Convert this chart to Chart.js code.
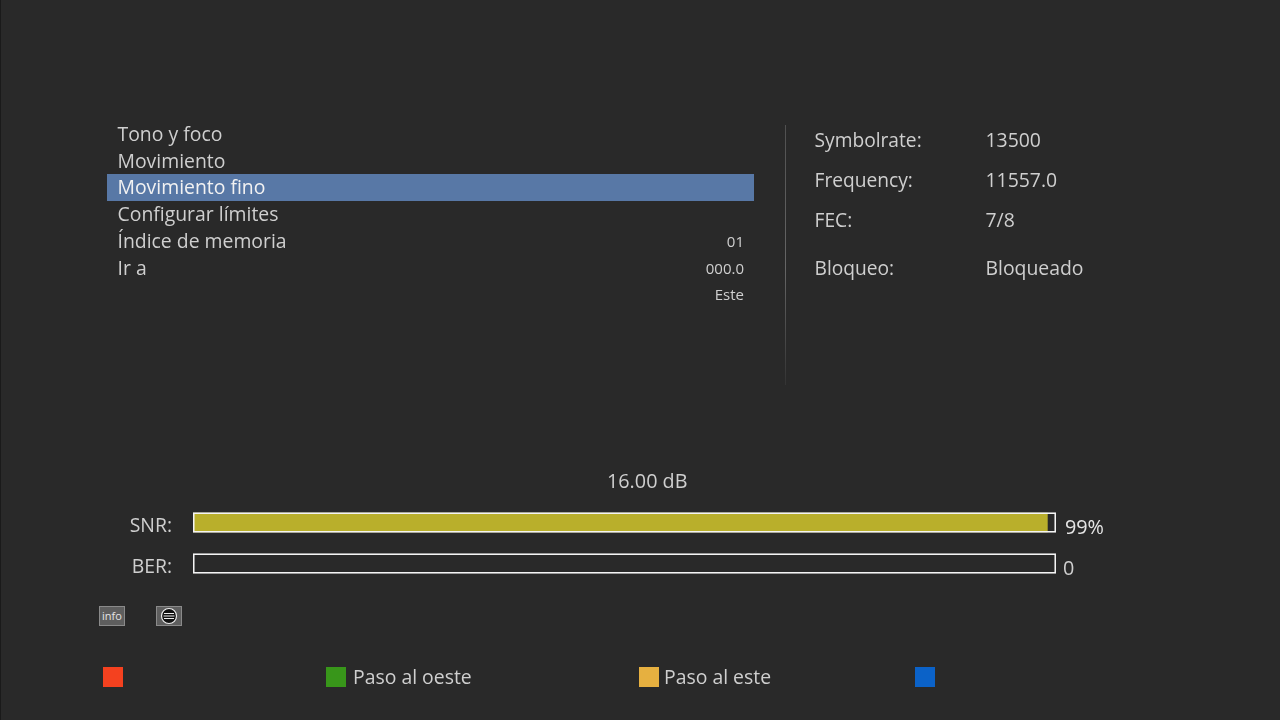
<!DOCTYPE html>
<html lang="es">
<head>
<meta charset="utf-8">
<title>Movimiento fino</title>
<script src="https://cdn.jsdelivr.net/npm/chart.js@4"></script>
<style>
  html, body { margin: 0; padding: 0; background: #292929; }
  #pantalla { position: relative; width: 1280px; height: 720px; overflow: hidden; background: #292929;
    font-family: "Open Sans", "Noto Sans", sans-serif; color: #cfcfcf; }
  #pantalla::before { content: ''; position: absolute; left: 0; top: 0; width: 1px; height: 720px; background: #1a1a1a; }
  #grafico { position: absolute; left: 0; top: 0; }
  .txt { position: absolute; white-space: nowrap; line-height: 26px; height: 26px; font-size: 19.4px; }
  #seleccion { position: absolute; left: 107px; top: 174px; width: 647px; height: 26.7px; background: #5878a6; }
  #divisor { position: absolute; left: 785px; top: 125px; width: 1px; height: 260px;
    background: linear-gradient(to bottom, #505050, #666 55%, #333); }
  .cuadro { position: absolute; top: 667px; width: 20px; height: 20px; }
  .tecla { position: absolute; top: 606px; width: 24px; height: 18px; background: #5e5e5e; border: 1px solid #8a8a8a;
    color: #e4e4e4; font: 11px/18px "Open Sans", sans-serif; text-align: center; }
  .tecla svg { display: block; margin: 0 auto; }
</style>
</head>
<body>
<div id="pantalla">
  <div id="seleccion"></div>
  <div id="divisor"></div>
  <canvas id="grafico" width="1280" height="720"></canvas>
  <div class="tecla" style="left:99px">info</div>
  <div class="tecla" style="left:156px">
    <svg width="20" height="18" viewBox="0 0 20 18">
      <circle cx="10" cy="9" r="7.5" fill="#111" stroke="#eee" stroke-width="1.2"/>
      <path d="M5 6.5h10M4.5 9h11M5 11.5h10" stroke="#eee" stroke-width="1.2"/>
    </svg>
  </div>
</div>
<script>
// ---- datos ----
const MEDIDAS = ['SNR:', 'BER:'];
const NIVEL   = [99, 0];
const ESCALA  = [100, 100];
const LECTURAS = ['99%', '0'];
const DB_TEXTO = '16.00 dB';

const MENU = ['Tono y foco', 'Movimiento', 'Movimiento fino', 'Configurar límites', 'Índice de memoria', 'Ir a'];
const MENU_VALORES = ['', '', '', '', '01', '000.0', 'Este'];
const INFO_NOMBRES = ['Symbolrate:', 'Frequency:', 'FEC:', 'Bloqueo:'];
const INFO_VALORES = ['13500', '11557.0', '7/8', 'Bloqueado'];
const TECLAS = ['', 'Paso al oeste', 'Paso al este', ''];
const TECLAS_COLOR = ['#f4411f', '#38961a', '#e6b040', '#0b62c8'];

// posiciones de la pantalla
const FILA_Y = [134, 161, 187, 214, 241, 267.5, 294];
const INFO_Y = [140, 180, 220, 268];
const TECLAS_X = [103, 326, 639, 915];
const TECLAS_TXT_X = [0, 353, 664, 0];

const pantalla = document.getElementById('pantalla');

function poner(texto, x, yCentro, extra) {
  const el = document.createElement('div');
  el.className = 'txt';
  el.textContent = texto;
  el.style.left = x + 'px';
  el.style.top = (yCentro - 13) + 'px';
  Object.assign(el.style, extra || {});
  pantalla.appendChild(el);
  return el;
}

function ponerDer(texto, xDer, yCentro, extra) {
  const el = poner(texto, 0, yCentro, extra);
  el.style.left = 'auto';
  el.style.right = (1280 - xDer) + 'px';
  return el;
}

// ---- menú ----
MENU.forEach((t, i) => poner(t, 117.5, FILA_Y[i], i === 2 ? { color: '#f2f2f2' } : {}));
MENU_VALORES.forEach((t, i) => { if (t) ponerDer(t, 744, FILA_Y[i], { fontSize: '15px' }); });

// ---- panel de información ----
INFO_NOMBRES.forEach((t, i) => {
  poner(t, 814.5, INFO_Y[i], { fontSize: '19.2px' });
  poner(INFO_VALORES[i], 985.5, INFO_Y[i], { fontSize: '19.4px' });
});

// ---- lecturas ----
poner(DB_TEXTO, 607, 481, { fontSize: '19.8px' });
poner(LECTURAS[0], 1065, 527, { color: '#e6e6e6', fontSize: '19.8px' });
poner(LECTURAS[1], 1063, 567.5, { fontSize: '19.8px' });

// ---- teclas de color ----
TECLAS.forEach((t, i) => {
  const c = document.createElement('div');
  c.className = 'cuadro';
  c.style.left = TECLAS_X[i] + 'px';
  c.style.background = TECLAS_COLOR[i];
  pantalla.appendChild(c);
  if (t) poner(t, TECLAS_TXT_X[i], 677);
});

// ---- barras SNR / BER ----
new Chart(document.getElementById('grafico').getContext('2d'), {
  type: 'bar',
  data: {
    labels: MEDIDAS,
    datasets: [
      { label: 'Nivel', data: NIVEL, backgroundColor: '#b9af2b', borderWidth: 0,
        barThickness: 19, grouped: false, order: 2 },
      { label: 'Escala', data: ESCALA, backgroundColor: 'transparent', borderColor: '#f4f4f4',
        borderWidth: 1.2, borderSkipped: false, barThickness: 20, grouped: false, order: 1 },
    ],
  },
  options: {
    indexAxis: 'y',
    responsive: false,
    animation: false,
    layout: { padding: { top: 502, bottom: 136, left: 0, right: 224 } },
    plugins: { legend: { display: false }, tooltip: { enabled: false } },
    scales: {
      x: { display: false, min: 0, max: 100 },
      y: {
        grid: { display: false, drawTicks: false },
        border: { display: false },
        afterFit: s => { s.width = 193; },
        ticks: {
          color: '#cfcfcf', padding: 21, labelOffset: 4,
          font: { family: '"Open Sans", "Noto Sans", sans-serif', size: 19.4 },
        },
      },
    },
  },
});
</script>
</body>
</html>
